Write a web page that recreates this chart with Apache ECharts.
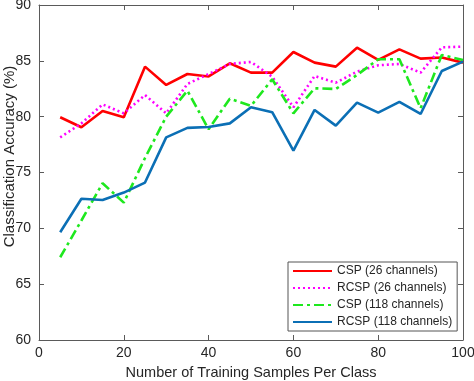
<!DOCTYPE html>
<html><head><meta charset="utf-8">
<script src="https://cdn.jsdelivr.net/npm/echarts@6/dist/echarts.min.js"></script>
<style>html,body{margin:0;padding:0;background:#fff}#c{width:474px;height:381px}</style>
</head><body><div id="c"></div>
<script>
const samples = [5,10,15,20,25,30,35,40,45,50,55,60,65,70,75,80,85,90,95,100];
const csp26 = [79.95,79.05,80.5,79.95,84.48,82.84,83.82,83.6,84.78,83.94,83.94,85.79,84.84,84.48,86.18,85.08,86.03,85.2,85.3,84.84];
const rcsp26 = [78.15,79.4,81.1,80.3,81.94,80.3,82.93,83.82,84.72,84.9,83.58,80.84,83.64,83.04,84.03,84.6,84.72,83.94,86.21,86.27];
const csp118 = [67.41,70.7,74.04,72.3,76.3,80.0,82.33,78.87,81.61,80.96,83.35,80.3,82.54,82.48,83.73,85.14,85.14,80.75,85.52,85.08];
const rcsp118 = [69.65,72.65,72.54,73.2,74.1,78.15,79.0,79.07,79.4,80.84,80.4,76.96,80.6,79.2,81.26,80.36,81.32,80.24,84.09,84.93];
const xTicks = [0,20,40,60,80,100];
const yTicks = [60,65,70,75,80,85,90];
const names = ['CSP (26 channels)','RCSP (26 channels)','CSP (118 channels)','RCSP (118 channels)'];

const pair = arr => samples.map((x,i)=>[x,arr[i]]);
const font = 'Liberation Sans, Arial, sans-serif';
const axisCol = '#5a5a5a';
const chart = echarts.init(document.getElementById('c'));
const baseX = {type:'value', min:xTicks[0], max:xTicks[xTicks.length-1], interval:20,
  axisLine:{show:true,onZero:false,lineStyle:{color:axisCol,width:1}},
  axisTick:{show:true,inside:true,length:5,lineStyle:{color:axisCol}},
  splitLine:{show:false}};
const baseY = {type:'value', min:yTicks[0], max:yTicks[yTicks.length-1], interval:5,
  axisLine:{show:true,onZero:false,lineStyle:{color:axisCol,width:1}},
  axisTick:{show:true,inside:true,length:5,lineStyle:{color:axisCol}},
  splitLine:{show:false}};
const mk = (name, arr, color, type) => ({
  name, type:'line', data:pair(arr), symbol:'none', xAxisIndex:0, yAxisIndex:0,
  lineStyle:{color, width:2.6, type}, itemStyle:{color}, animation:false
});
chart.setOption({
  animation:false,
  textStyle:{fontFamily:font},
  grid:{left:39, top:5, right:11, bottom:41, containLabel:false, outerBoundsMode:'none'},
  xAxis:[
    Object.assign({}, baseX, {position:'bottom',
      axisLabel:{color:'#262626',fontSize:14,fontFamily:font,margin:6},
      name:'Number of Training Samples Per Class', nameLocation:'middle', nameGap:25,
      nameMoveOverlap:false,
      nameTextStyle:{color:'#262626',fontSize:14.5,fontFamily:font}}),
    Object.assign({}, baseX, {position:'top', axisLabel:{show:false}})
  ],
  yAxis:[
    Object.assign({}, baseY, {position:'left',
      axisLabel:{color:'#262626',fontSize:14,fontFamily:font,margin:8},
      name:'Classification Accuracy (%)', nameLocation:'middle', nameGap:22,
      nameMoveOverlap:false,
      nameTextStyle:{color:'#262626',fontSize:15,fontFamily:font,padding:[0,0,0,32]}}),
    Object.assign({}, baseY, {position:'right', axisLabel:{show:false}})
  ],
  legend:{
    data:names, orient:'vertical', left:288, top:262,
    itemWidth:39, itemHeight:12, itemGap:5,
    padding:[3,5,3,4],
    backgroundColor:'#fff', borderColor:'#555', borderWidth:1,
    itemStyle:{opacity:0},
    textStyle:{fontSize:12,color:'#262626',fontFamily:font}
  },
  series:[
    mk(names[0], csp26, '#ff0000', 'solid'),
    mk(names[1], rcsp26, '#ff00ff', [2,3]),
    mk(names[2], csp118, '#1ee81e', [10,4,3,4]),
    mk(names[3], rcsp118, '#0b6fb5', 'solid')
  ]
});
</script></body></html>
